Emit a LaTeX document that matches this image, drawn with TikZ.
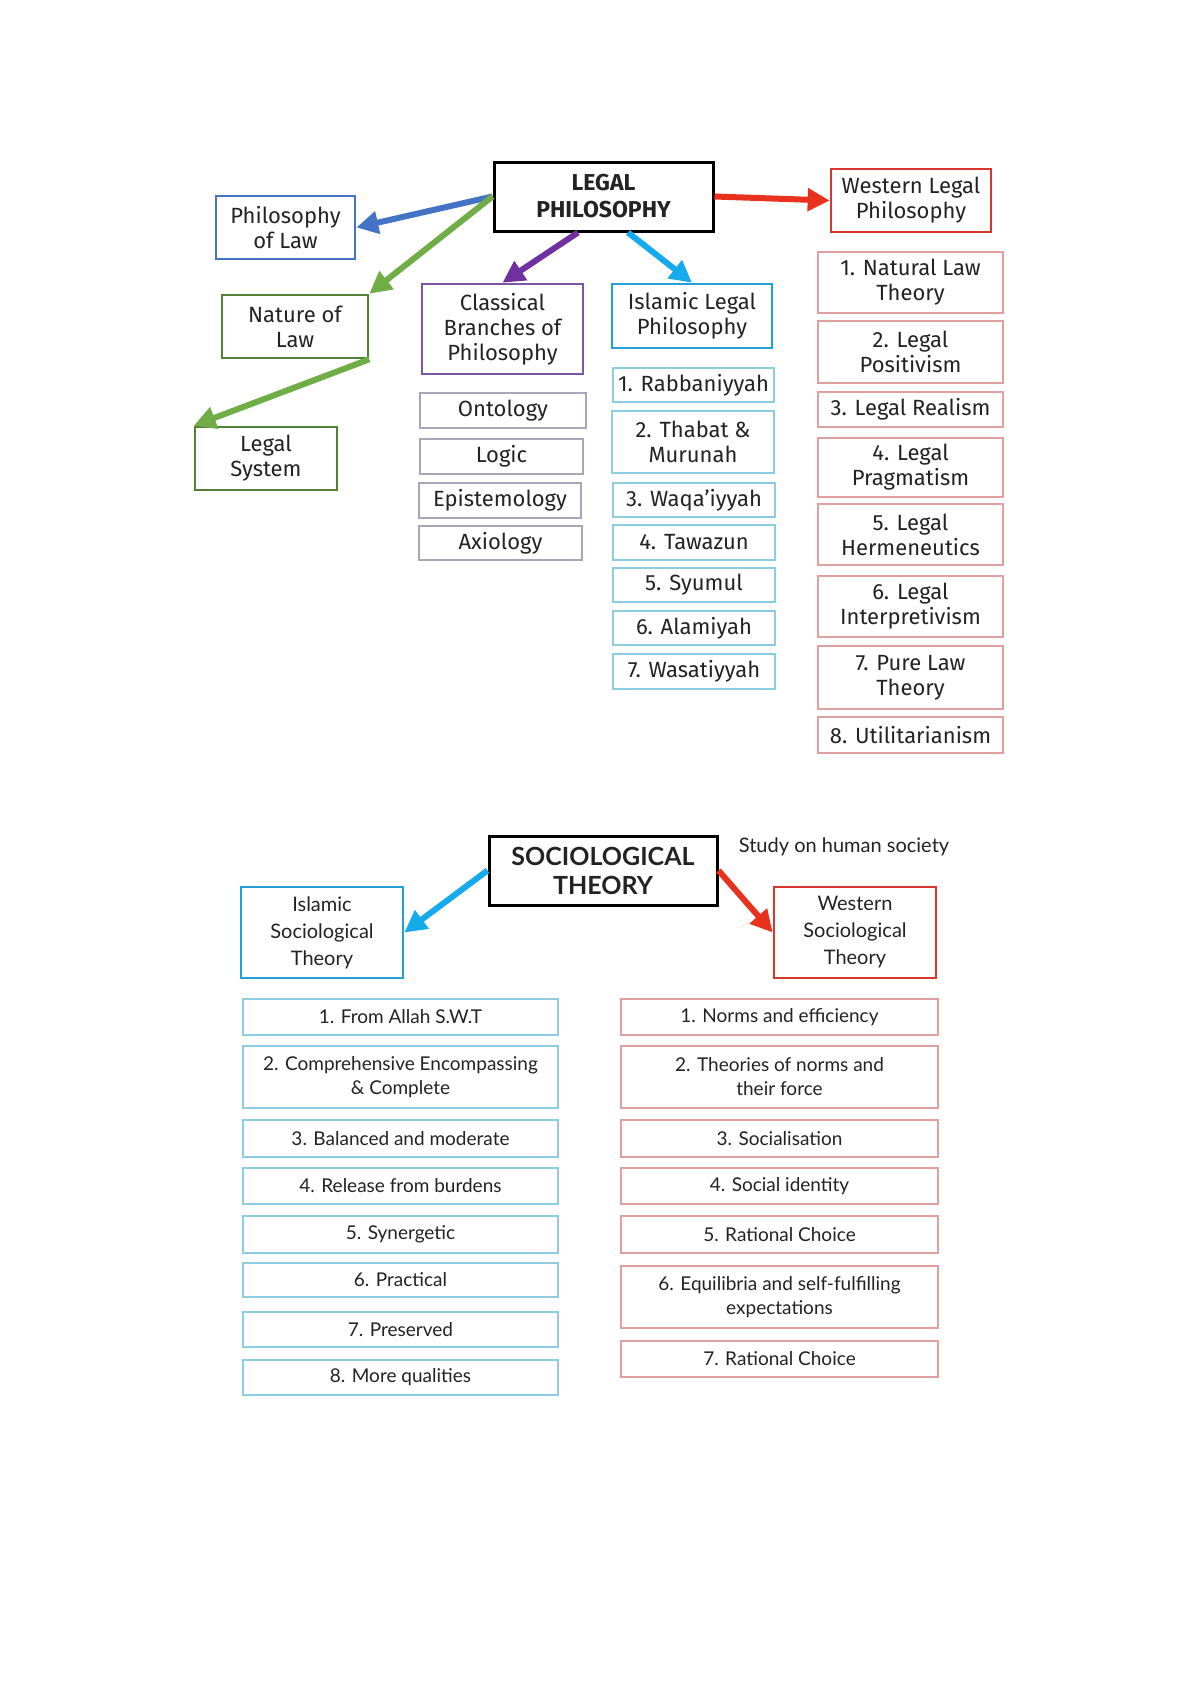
\documentclass[tikz,border=0pt]{standalone}
\usepackage{fontspec}
\setmainfont{Fira Sans}
\newfontfamily\gill{Lato}
\usetikzlibrary{arrows.meta}
\definecolor{bleuPL}{RGB}{68,114,196}
\definecolor{vertPL}{RGB}{112,173,71}
\definecolor{vertbord}{RGB}{84,130,53}
\definecolor{violetPL}{RGB}{112,48,160}
\definecolor{violetbord}{RGB}{125,85,165}
\definecolor{cyanPL}{RGB}{20,170,235}
\definecolor{cyanbord}{RGB}{35,160,215}
\definecolor{rougePL}{RGB}{232,50,30}
\definecolor{rougebord}{RGB}{215,55,45}
\definecolor{listecyan}{RGB}{140,205,225}
\definecolor{listerouge}{RGB}{225,160,160}
\definecolor{listegris}{RGB}{170,165,185}
\definecolor{texte}{RGB}{35,35,35}
\tikzset {boite/.style 2 args={draw, rectangle, inner sep=0pt, align=center, text=texte,
            minimum width=#1*0.5pt, minimum height=#2*0.5pt}}
\tikzset {titre/.style={line width=1.5pt, font=\bfseries\fontsize{11.5}{13.5}\selectfont},
          tete/.style={line width=1.3pt, font=\fontsize{11}{12.5}\selectfont},
          item/.style={line width=0.7pt, font=\fontsize{11}{12.5}\selectfont},
          socio/.style={line width=1.5pt, font=\gill\bfseries\fontsize{12.5}{14.5}\selectfont},
          sociotete/.style={line width=1.3pt, font=\gill\fontsize{10}{13.5}\selectfont},
          socioitem/.style={line width=0.7pt, font=\gill\fontsize{9.5}{12}\selectfont},
          fleche/.style={line width=3pt, -{Triangle[length=11pt,width=11pt]}}}

\begin{document}
\begin{tikzpicture}[x=0.5pt,y=-0.5pt]
  \fill[white] (0,0) rectangle (1200,1698);
  \node[boite={219}{69}, titre] (lp) at (603.5,196.5) {LEGAL\\PHILOSOPHY};
  \node[boite={139}{63}, tete, draw=bleuPL] (pol) at (285.5,227.5) {Philosophy\\of Law};
  \node[boite={146}{63}, tete, draw=vertbord] (nol) at (295,326.5) {Nature of\\Law};
  \node[boite={142}{63}, tete, draw=vertbord] (ls) at (266,458.5) {Legal\\System};
  \node[boite={161}{90}, tete, draw=violetbord] (cbp) at (502.5,329) {Classical\\Branches of\\Philosophy};
  \node[boite={166}{35}, item, draw=listegris] (ont) at (503,410.5) {Ontology};
  \node[boite={163}{35}, item, draw=listegris] (log) at (501.5,456.5) {Logic};
  \node[boite={162}{35}, item, draw=listegris] (epi) at (500,500.5) {Epistemology};
  \node[boite={163}{34}, item, draw=listegris] (axi) at (500.5,543) {Axiology};
  \node[boite={160}{64}, tete, draw=cyanbord] (ilp) at (692,316) {Islamic Legal\\Philosophy};
  \node[boite={161}{34}, item, draw=listecyan] (isl1) at (693.5,385) {1. Rabbaniyyah};
  \node[boite={162}{62}, item, draw=listecyan] (isl2) at (693,442) {2. Thabat \&\\Murunah};
  \node[boite={162}{34}, item, draw=listecyan] (isl3) at (694,500) {3. Waqa'iyyah};
  \node[boite={162}{35}, item, draw=listecyan] (isl4) at (694,542.5) {4. Tawazun};
  \node[boite={162}{34}, item, draw=listecyan] (isl5) at (694,585) {5. Syumul};
  \node[boite={162}{34}, item, draw=listecyan] (isl6) at (694,628) {6. Alamiyah};
  \node[boite={162}{35}, item, draw=listecyan] (isl7) at (694,671.5) {7. Wasatiyyah};
  \node[boite={160}{63}, tete, draw=rougebord] (wlp) at (911,200.5) {Western Legal\\Philosophy};
  \node[boite={185}{61}, item, draw=listerouge] (wes1) at (910.5,282.5) {1. Natural Law\\Theory};
  \node[boite={185}{62}, item, draw=listerouge] (wes2) at (910.5,352) {2. Legal\\Positivism};
  \node[boite={185}{35}, item, draw=listerouge] (wes3) at (910.5,409.5) {3. Legal Realism};
  \node[boite={185}{59}, item, draw=listerouge] (wes4) at (910.5,467.5) {4. Legal\\Pragmatism};
  \node[boite={185}{61}, item, draw=listerouge] (wes5) at (910.5,534.5) {5. Legal\\Hermeneutics};
  \node[boite={185}{61}, item, draw=listerouge] (wes6) at (910.5,606.5) {6. Legal\\Interpretivism};
  \node[boite={185}{63}, item, draw=listerouge] (wes7) at (910.5,677.5) {7. Pure Law\\Theory};
  \node[boite={185}{36}, item, draw=listerouge] (wes8) at (910.5,735) {8. Utilitarianism};
  \draw[fleche, bleuPL] (lp.west) -- (pol.east);
  \draw[fleche, vertPL] (lp.west) -- (nol.north east);
  \draw[fleche, vertPL] (nol.south east) -- (ls.north west);
  \draw[fleche, violetPL] ([xshift=-12.75pt]lp.south) -- (cbp.north);
  \draw[fleche, cyanPL] ([xshift=12.25pt]lp.south) -- (ilp.north);
  \draw[fleche, rougePL] (lp.east) -- (wlp.west);

  \node[boite={228}{69}, socio] (st) at (603,870.5) {SOCIOLOGICAL\\THEORY};
  \node[text=texte, font=\gill\fontsize{10}{12}\selectfont] (etude) at (844,847) {Study on human society};
  \node[boite={162}{91}, sociotete, draw=cyanbord] (ist) at (322,932.5) {Islamic\\Sociological\\Theory};
  \node[boite={162}{91}, sociotete, draw=rougebord] (wst) at (855,932.5) {Western\\Sociological\\Theory};
  \node[boite={315}{36}, socioitem, draw=listecyan] (is1) at (400.5,1017) {1. From Allah S.W.T};
  \node[boite={315}{62}, socioitem, draw=listecyan] (is2) at (400.5,1077) {2. Comprehensive Encompassing\\\& Complete};
  \node[boite={315}{37}, socioitem, draw=listecyan] (is3) at (400.5,1138.5) {3. Balanced and moderate};
  \node[boite={315}{36}, socioitem, draw=listecyan] (is4) at (400.5,1186) {4. Release from burdens};
  \node[boite={315}{37}, socioitem, draw=listecyan] (is5) at (400.5,1234.5) {5. Synergetic};
  \node[boite={315}{34}, socioitem, draw=listecyan] (is6) at (400.5,1280) {6. Practical};
  \node[boite={315}{35}, socioitem, draw=listecyan] (is7) at (400.5,1329.5) {7. Preserved};
  \node[boite={315}{35}, socioitem, draw=listecyan] (is8) at (400.5,1377.5) {8. More qualities};
  \node[boite={317}{36}, socioitem, draw=listerouge] (ws1) at (779.5,1017) {1. Norms and efficiency};
  \node[boite={317}{62}, socioitem, draw=listerouge] (ws2) at (779.5,1077) {2. Theories of norms and\\their force};
  \node[boite={317}{37}, socioitem, draw=listerouge] (ws3) at (779.5,1138.5) {3. Socialisation};
  \node[boite={317}{36}, socioitem, draw=listerouge] (ws4) at (779.5,1186) {4. Social identity};
  \node[boite={317}{37}, socioitem, draw=listerouge] (ws5) at (779.5,1234.5) {5. Rational Choice};
  \node[boite={317}{62}, socioitem, draw=listerouge] (ws6) at (779.5,1297) {6. Equilibria and self-fulfilling\\expectations};
  \node[boite={317}{36}, socioitem, draw=listerouge] (ws7) at (779.5,1359) {7. Rational Choice};
  \draw[fleche, cyanPL] (st.west) -- (ist.east);
  \draw[fleche, rougePL] (st.east) -- (wst.west);
\end{tikzpicture}
\end{document}
